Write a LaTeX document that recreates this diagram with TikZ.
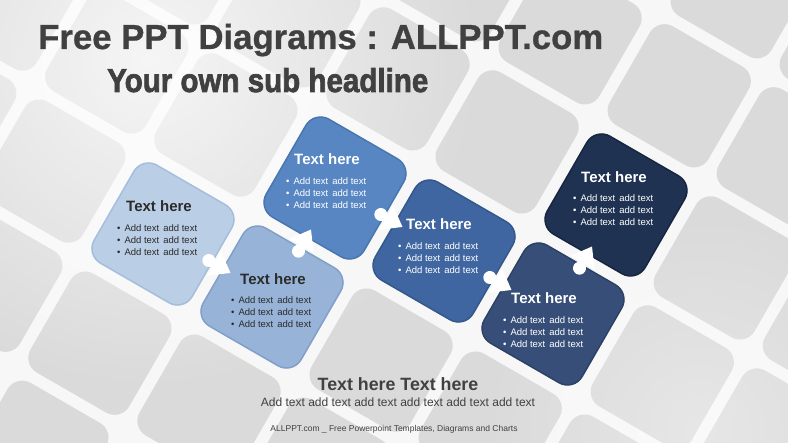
\documentclass[tikz,border=0pt]{standalone}
\usepackage{fontspec}
\setmainfont{Liberation Sans}
\newfontfamily\heavyfont[BoldFeatures={FakeBold=2.2}]{Liberation Sans}
\newfontfamily\midfont[BoldFeatures={FakeBold=0.8}]{Liberation Sans}
\usetikzlibrary{calc,fadings}
\definecolor{bgw}{HTML}{F7F7F7}
\definecolor{tileg}{HTML}{DADADA}
\definecolor{ca}{HTML}{BACEE6}\definecolor{cad}{HTML}{A5BEDC}
\definecolor{cb}{HTML}{97B4D8}\definecolor{cbd}{HTML}{819FC8}
\definecolor{cc}{HTML}{5786C3}\definecolor{ccd}{HTML}{4A76B0}
\definecolor{cdd}{HTML}{3F66A0}\definecolor{cddd}{HTML}{34578C}
\definecolor{ce}{HTML}{374F78}\definecolor{ced}{HTML}{2C4166}
\definecolor{cf}{HTML}{1F3252}\definecolor{cfd}{HTML}{172640}
\definecolor{tdark}{HTML}{404040}
\definecolor{tbox}{HTML}{2B2B2B}
\tikzfading[name=glowfade, inner color=transparent!0, outer color=transparent!100]
\newcommand\bul{\textbullet\hspace{4pt}Add text\hspace{4pt}add text}
\begin{document}
\begin{tikzpicture}[x=1pt,y=-1pt,
  box/.style={rectangle, rounded corners=17pt, minimum size=113pt, rotate=-30, line width=1.5pt, inner sep=0pt},
  ttl/.style={font=\bfseries\fontsize{15}{17}\selectfont},
  bl/.style={font=\fontsize{9.5}{12}\selectfont, align=left, anchor=west, inner sep=0pt},
]
\useasboundingbox (0,0) rectangle (788,443);
\fill[bgw] (0,0) rectangle (788,443);
\begin{scope}
\clip (0,0) rectangle (788,443);
\foreach \i in {-5,...,6}{\foreach \j in {-5,...,5}{
  \fill[tileg, rounded corners=17pt, shift={(335+\i*109.1-\j*63, 188+\i*63+\j*109.1)}, rotate=-30] (-57,-57) rectangle (57,57);
}}
\fill[white, opacity=0.75, path fading=glowfade] (150,60) circle (330pt);
\fill[white, opacity=0.35, path fading=glowfade] (700,430) circle (220pt);
\end{scope}
% title
\node[anchor=base west, inner sep=0pt, text=tdark] (title) at (38,49)
  {\resizebox{565pt}{!}{\midfont\bfseries Free PPT Diagrams : ALLPPT.com}};
\node[anchor=base west, inner sep=0pt, text=tdark] (sub) at (107,92)
  {\resizebox{321pt}{24pt}{\heavyfont\bfseries Your own sub headline}};
% boxes
\node[box, fill=ca, draw=cad] (b1) at (163,234) {};
\node[box, fill=cb, draw=cbd] (b2) at (272,297) {};
\node[box, fill=cc, draw=ccd] (b3) at (335,188) {};
\node[box, fill=cdd, draw=cddd] (b4) at (444,251) {};
\node[box, fill=ce, draw=ced] (b5) at (553,314) {};
\node[box, fill=cf, draw=cfd] (b6) at (616,205) {};
% puzzle arrows
\foreach \a/\b/\r in {b1/b2/-30, b2/b3/60, b3/b4/-30, b4/b5/-30, b5/b6/60}{
  \begin{scope}[shift={($(\a)!0.5!(\b)$)}, rotate=\r]
    \fill[white] (15,0) -- (-4,14) -- (-4,-14) -- cycle;
    \fill[white] (-10,0) circle (6.5pt);
  \end{scope}
}
% texts
\node[ttl, text=tbox] (t1) at (159,206) {Text here};
\node[bl, text=tbox] (l1) at (117,240) {\bul\\\bul\\\bul};
\node[ttl, text=tbox] (t2) at (273,279) {Text here};
\node[bl, text=tbox] (l2) at (231,312) {\bul\\\bul\\\bul};
\node[ttl, text=white] (t3) at (327,159) {Text here};
\node[bl, text=white] (l3) at (286,193) {\bul\\\bul\\\bul};
\node[ttl, text=white] (t4) at (439,224) {Text here};
\node[bl, text=white] (l4) at (398,258) {\bul\\\bul\\\bul};
\node[ttl, text=white] (t5) at (544,298) {Text here};
\node[bl, text=white] (l5) at (503,332) {\bul\\\bul\\\bul};
\node[ttl, text=white] (t6) at (614,177) {Text here};
\node[bl, text=white] (l6) at (573,210) {\bul\\\bul\\\bul};
% bottom
\node[font=\bfseries\fontsize{17.8}{20}\selectfont, text=tdark] (bt) at (398,384) {Text here Text here};
\node[font=\fontsize{12}{14}\selectfont, text=tdark] (bs) at (398,402) {Add text add text add text add text add text add text};
\node[font=\fontsize{8.5}{10}\selectfont, text=tdark] (ft) at (394,429) {ALLPPT.com \_ Free Powerpoint Templates, Diagrams and Charts};
\end{tikzpicture}
\end{document}
